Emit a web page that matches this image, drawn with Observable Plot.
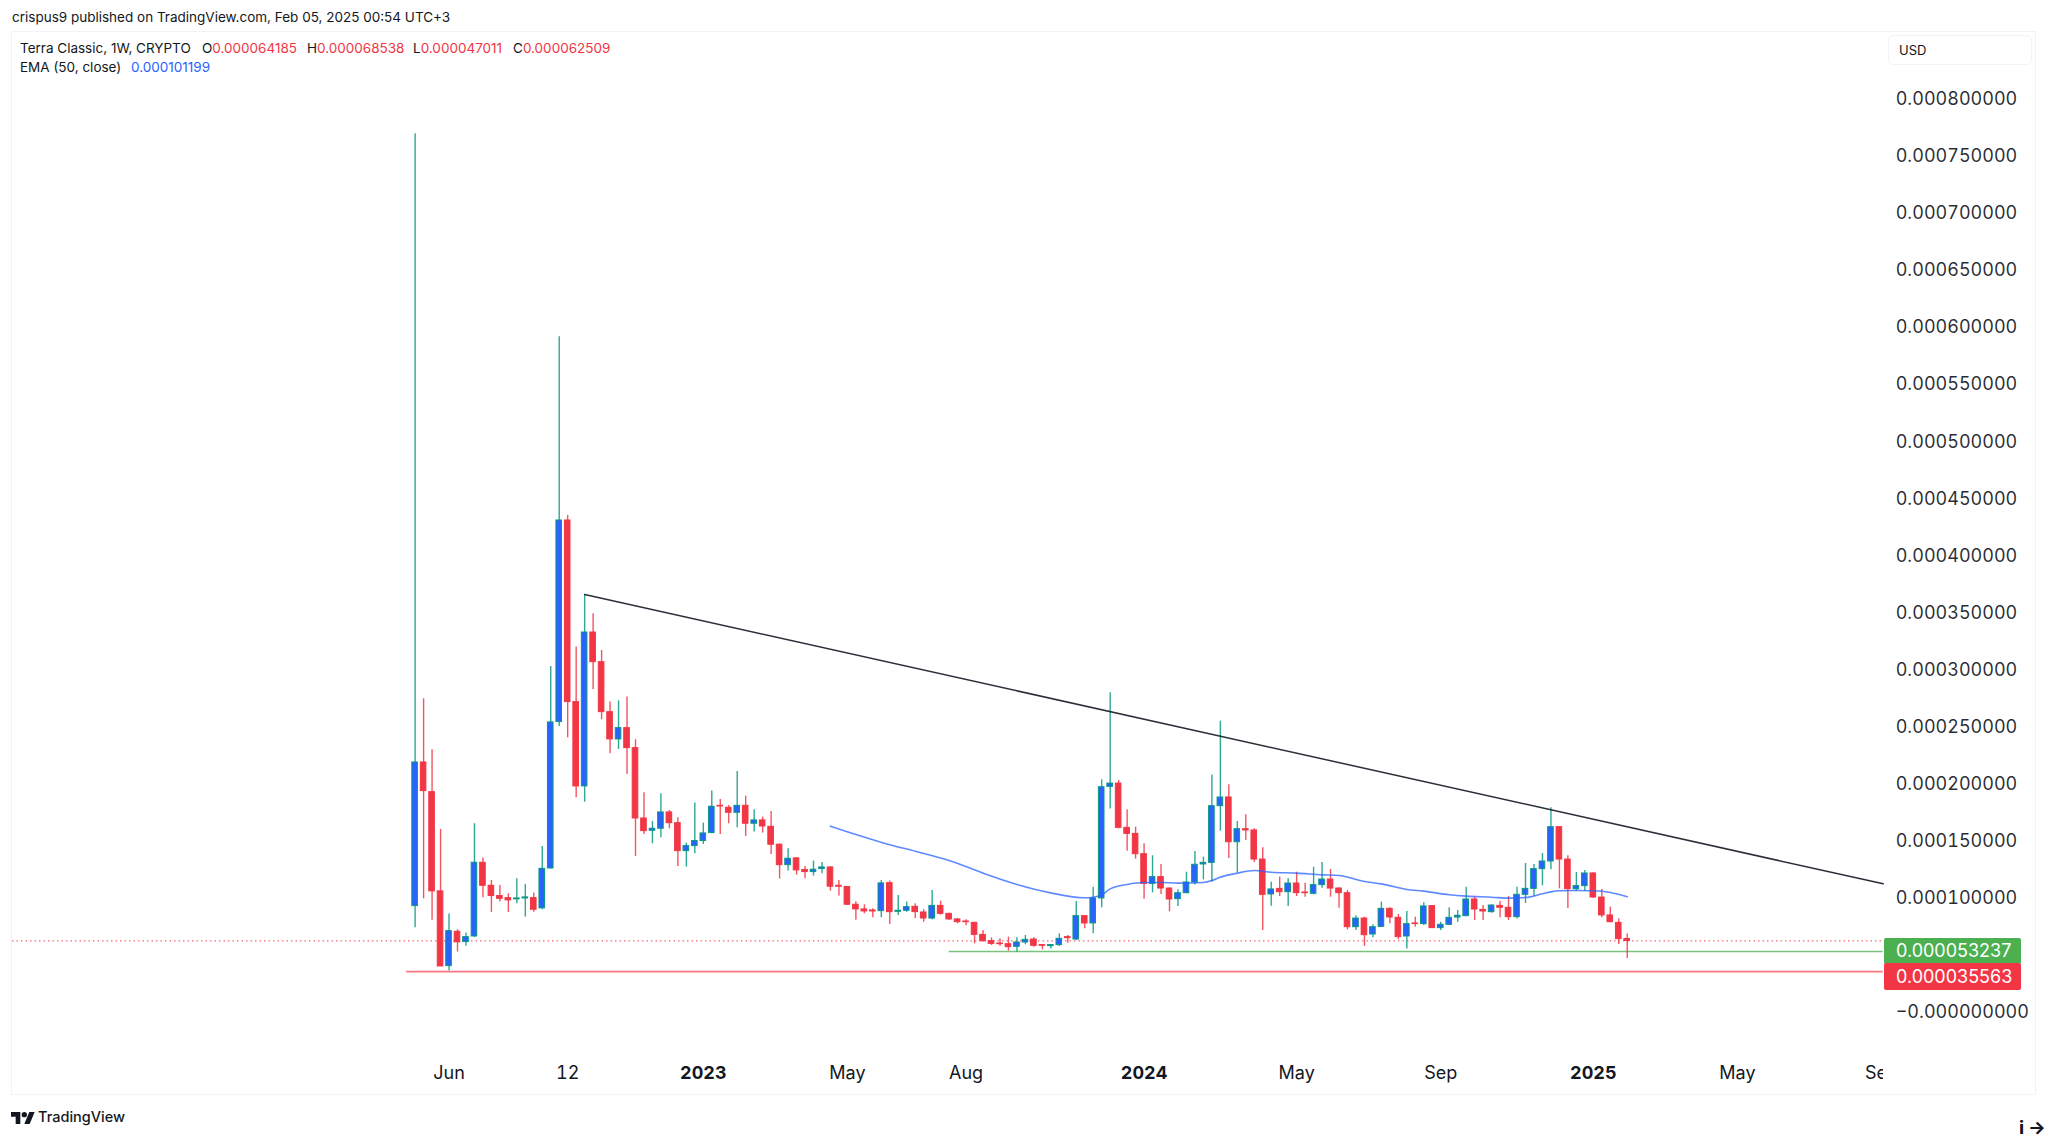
<!DOCTYPE html>
<html><head><meta charset="utf-8">
<script src="https://cdn.jsdelivr.net/npm/d3@7"></script>
<script src="https://cdn.jsdelivr.net/npm/@observablehq/plot@0.6"></script>
<style>
html,body{margin:0;padding:0;background:#fff}
body{width:2048px;height:1136px;position:relative;overflow:hidden;font-family:Inter,"Liberation Sans",sans-serif;color:#131722}
#chart{position:absolute;left:0;top:0}
.abs{position:absolute;white-space:pre;line-height:1}
.red{color:#f23645}.blue{color:#2962ff}
#pane{position:absolute;left:11px;top:31px;width:2025px;height:1064px;border:1px solid #f0f3fa;box-sizing:border-box}
#usd{position:absolute;left:1888px;top:35px;width:144px;height:30px;border:1px solid #f0f3fa;border-radius:5px;box-sizing:border-box;font-size:13px;line-height:28px;padding-left:10px;background:#fff}
#cut{position:absolute;left:1883px;top:1058px;width:60px;height:34px;background:#fff}
.badge{position:absolute;left:1884px;width:137px;color:#fff;font-size:18px;padding-left:12px;box-sizing:border-box;border-radius:2px;font-family:Inter}
</style></head><body>
<div id="chart"></div>
<script>
// Weekly candles, in millionths of a USD
const open=[93.0,218.9,192.9,105.9,40.4,70.5,61.5,66.4,131,110.8,
101.8,100,98.9,99.7,100,91,126,254.3,431,271.8,
197.9,332.8,306.8,263,239.1,249,231.5,169.8,159,160.8,
175.1,165.7,141.2,145.6,150,157,180.9,179.2,174.8,180.9,
165.2,168.1,162.5,146.8,128.9,134.8,124.6,122.8,125.5,126.9,
110.8,109.7,94.2,90.1,89.2,88.6,113.1,88,88.9,92.4,
87.4,82.1,93.2,86.2,81.3,79.5,78.3,67.8,62.3,60.2,
59.6,57.3,61.1,63.7,58.8,57.9,58.8,65.8,63.7,84.2,
77.8,99.7,197.5,200.4,161.6,156.3,138.5,112.5,118.4,108.4,
99.1,104.3,113.7,129.5,130.9,180.6,188.2,149,160.4,159.3,
133.8,103.2,108.1,105.2,112.8,104.9,103.8,111.4,116.3,108.4,
104.3,74.5,82.1,68.1,74.8,90.6,82.7,66.4,77.8,77.2,
93,73.7,76.6,83,84.2,98.8,89.7,87.7,93.2,91.5,
83.3,102.9,108.1,125.4,132.1,162.2,133.8,107.8,110.5,121.6,
100.5,84.8,78.3,64.185];
const high=[770,274.7,230,160.2,86,72.3,69.4,165.2,135.1,115.5,
111.1,103.8,117,112,104.4,145.3,303,592,435.4,320,
366.1,349.2,317.1,271.8,272.9,276.2,238.8,192.3,167.2,191.5,
176.8,170.4,148.2,183.3,165.7,193.8,186.5,181.2,211,189.4,
177.4,171,176,147.6,143.3,135.4,127.8,132.5,131.3,127.2,
115.5,109.9,96.8,94.2,90.7,115.5,114.9,102.3,96.5,95,
89.7,106.7,97.3,86.8,82.1,81,78.9,71.6,65.2,64.3,
65.8,65.2,67.2,65.2,59.1,59.4,68.7,67.2,97,84.8,
109.6,203.7,279.9,203.1,177.4,162.2,147.6,137.1,129.5,109,
107.3,122.7,140.9,135.9,208,255.1,199.3,167.1,173,160.7,
144.1,114,118.4,116.9,122.7,113.1,127.1,131.2,125.1,109,
106.7,84.5,83.3,76.6,96.5,91.5,85.7,88.3,83.3,95.9,
93.2,78.9,91.5,89.2,109.6,100.8,93.5,94.1,97.3,101.4,
109.6,130.3,129.5,139.1,179.1,162.4,137.1,122.5,124.2,122.2,
107.6,92.1,81.6,68.538];
const low=[74,99.4,80.5,40.1,36.1,52.7,57.7,65.3,100.3,87.5,
96.5,87.5,95.1,83.4,87.5,89.8,125.4,250.5,240.5,187.9,
184.1,282.9,256.3,226.5,230.3,208.4,136.5,155.8,147.6,152.9,
160.8,127.8,127.2,138.9,147,156.4,155.8,165.2,161.7,154.1,
157.9,157,138.3,116.7,123.7,120.2,117,119.3,121.3,106.2,
101.8,93.6,80.5,86.3,82.8,82.8,76.9,84.8,87.7,82.1,
78.9,81,85.1,80.4,77.5,75.7,59.9,61.4,58.5,57.9,
53.5,52.6,59.1,57,54.7,55.3,57.6,60.5,62.9,73.1,
68.7,91.5,178.2,160.7,141.1,134.1,99.1,104.6,103.2,88,
92.7,103.8,111.6,116,114,158.7,134.7,122.2,150.5,131.2,
71.6,92.9,101.4,92.7,101.4,100.8,102.9,108.7,100.8,91.2,
72.2,71.6,57.6,65.2,74.2,77.5,63.4,55.3,74.5,76,
73.5,71.6,76,78.7,83.6,80.4,80.4,86.8,82.7,80.4,
81.6,95.3,101.4,110.8,124.8,108.1,90.9,105.8,106.1,100,
82.7,78.3,59.4,47.011];
const close=[218.9,193.8,105.9,40.1,71.1,61.2,65.8,131,110.8,101.8,
99.4,98,99.7,100.6,89.8,125.7,254,431,271.8,197.9,
332.8,306.8,263,239.1,249,231.5,169.8,158.7,160.8,175.1,
165.7,141.2,145.6,150,156.7,180.1,180.3,174.8,180.9,165.2,
168.1,162.8,146.8,128.9,134.5,124.3,122.8,124.9,126.9,110,
110,94.2,90.1,88.3,88.3,112.9,87.7,88.9,92.1,87.7,
82.1,93.2,86.2,81.3,78.9,78.9,67.8,62.3,59.9,59.6,
57,61.1,63.4,58.2,58.2,58.8,64.3,64.9,84.2,77.8,
99.7,197.2,200.4,161.6,156.3,138.5,112.5,118.4,108.4,98.8,
104.3,113.7,129.2,130.9,180.6,188.2,149,160.4,159.3,133.8,
102.9,107.6,105.2,112.8,104.3,104.3,111.4,116.3,108.4,104.3,
74.5,82.1,67.5,74.5,90.6,83,65.8,77.2,77.2,92.7,
73.7,76.6,82.7,84.5,98.8,90,88.3,93.5,91.5,83.3,
102.9,108.1,125.4,132.1,162.2,133.8,107.8,110.5,121.6,100.5,
84.8,78.9,64,62.509];

// EMA (50, close)
const emaWeek=[49,52,54,56,59,63,67,71,75,79,80,81,82,84,86,88,90,93,94,95,97,99,101,104,107,109,112,114,117,119,122,124,127,129,131,133,134,135,137,139,141,143];
const emaValue=[163.1,155.8,151.2,146.8,141.1,133,121.9,112,104.6,100.3,100.8,102.9,108.1,112,113.7,113.7,113.1,113.7,115.4,118.4,121.9,124.2,122.7,121.9,120.4,119.8,114.6,112.5,107.6,106.1,102.9,101.7,100.8,100,100.5,103.8,105.5,106.4,106.7,106.4,104.9,101.2];

// Drawn lines
const trendWeek=[20,173.2], trendValue=[366.1,112.5];
const supportLevel=53.237, supportFrom=63;
const bottomLevel=35.563, bottomFrom=-1;
const lastClose=62.509;

// Axes
const priceTicks=[0,50,100,150,200,250,300,350,400,450,500,550,600,650,700,750,800];
const monthTickWeeks=[4,18,51,65,104,121,156,173];
const monthTickLabels=["Jun","12","May","Aug","May","Sep","May","Sep"];
const yearTickWeeks=[34,86,139];
const yearTickLabels=["2023","2024","2025"];

const UP="#089981", UPBODY="#2962ff", DOWN="#f23645";
const candles=close.map((c,i)=>({i,o:open[i],h:high[i],l:low[i],c,up:c>=open[i]}));
const xMin=-47.5, xMax=173.2;
const fmt=v=>v===0?"\u22120.000000000":(v/1e6).toFixed(9);
const F="Inter, 'Liberation Sans', sans-serif";

const chart=Plot.plot({
  width:2048,height:1136,
  marginLeft:12,marginRight:165.3,marginTop:31,marginBottom:74,
  style:{background:"transparent",fontFamily:F,color:"#131722"},
  x:{type:"linear",domain:[xMin,xMax],axis:null},
  y:{type:"linear",domain:[0,800],range:[1011.7,99],axis:null},
  marks:[
    Plot.ruleY([lastClose],{x1:xMin,x2:xMax,stroke:DOWN,strokeOpacity:0.75,strokeWidth:1.3,strokeDasharray:"1.5 3"}),
    Plot.ruleY([bottomLevel],{x1:bottomFrom,x2:xMax,stroke:"#f7525f",strokeOpacity:0.8,strokeWidth:1.6}),
    Plot.ruleY([supportLevel],{x1:supportFrom,x2:xMax,stroke:"#4caf50",strokeOpacity:0.75,strokeWidth:1.6}),
    Plot.ruleX(candles,{x:"i",y1:"l",y2:"h",stroke:d=>d.up?UP:DOWN,strokeWidth:1.4,strokeOpacity:0.85}),
    Plot.rect(candles,{x1:d=>d.i-0.33,x2:d=>d.i+0.33,y1:d=>Math.min(d.o,d.c),y2:d=>Math.max(d.o,d.c),
      fill:d=>d.up?UPBODY:DOWN,stroke:d=>d.up?UP:DOWN,strokeWidth:1}),
    Plot.line(emaValue,{x:(d,i)=>emaWeek[i],y:d=>d,stroke:"#2962ff",strokeOpacity:0.75,strokeWidth:1.6,curve:"monotone-x"}),
    Plot.line(trendValue,{x:(d,i)=>trendWeek[i],y:d=>d,stroke:"#131722",strokeOpacity:0.9,strokeWidth:1.5}),
    Plot.axisY(priceTicks,{anchor:"right",tickSize:0,tickPadding:12.5,tickFormat:fmt,fontSize:18,fill:"#131722",fillOpacity:0.92}),
    Plot.axisX(monthTickWeeks,{anchor:"bottom",tickSize:0,tickPadding:4,fontSize:18,fill:"#131722",
      tickFormat:w=>monthTickLabels[monthTickWeeks.indexOf(w)]}),
    Plot.axisX(yearTickWeeks,{anchor:"bottom",tickSize:0,tickPadding:4,fontSize:18,fontWeight:"bold",fill:"#131722",
      tickFormat:w=>yearTickLabels[yearTickWeeks.indexOf(w)]})
  ]
});
document.getElementById("chart").append(chart);

const overlay=`
<div id="pane"></div>
<div id="cut"></div>
<div id="usd">USD</div>
<div class="abs" style="left:12px;top:11px;font-size:13.5px">crispus9 published on TradingView.com, Feb 05, 2025 00:54 UTC+3</div>
<div class="abs" style="left:20px;top:42px;font-size:13.5px">Terra Classic, 1W, CRYPTO</div>
<div class="abs" style="left:202px;top:42px;font-size:13.5px">O<span class="red">0.000064185</span></div>
<div class="abs" style="left:307px;top:42px;font-size:13.5px">H<span class="red">0.000068538</span></div>
<div class="abs" style="left:413px;top:42px;font-size:13.5px">L<span class="red">0.000047011</span></div>
<div class="abs" style="left:513px;top:42px;font-size:13.5px">C<span class="red">0.000062509</span></div>
<div class="abs" style="left:20px;top:61px;font-size:13.5px">EMA (50, close)</div>
<div class="abs blue" style="left:131px;top:61px;font-size:13.5px">0.000101199</div>
<div class="badge" style="top:938px;height:26px;line-height:26px;background:#4caf50">0.000053237</div>
<div class="badge" style="top:963px;height:27px;line-height:27px;background:#f23645">0.000035563</div>
<svg style="position:absolute;left:11px;top:1110px" width="24" height="16" viewBox="0 2 36 22"><path fill="#131722" d="M14 22H7V11H0V4h14v18zM28 22h-8l7.5-18h8L28 22z"/><circle cx="20" cy="8" r="4" fill="#131722"/></svg>
<div class="abs" style="left:38px;top:1110px;font-size:14.5px;font-weight:500">TradingView</div>`;
document.body.insertAdjacentHTML("beforeend",overlay);
</script>
</body></html>
